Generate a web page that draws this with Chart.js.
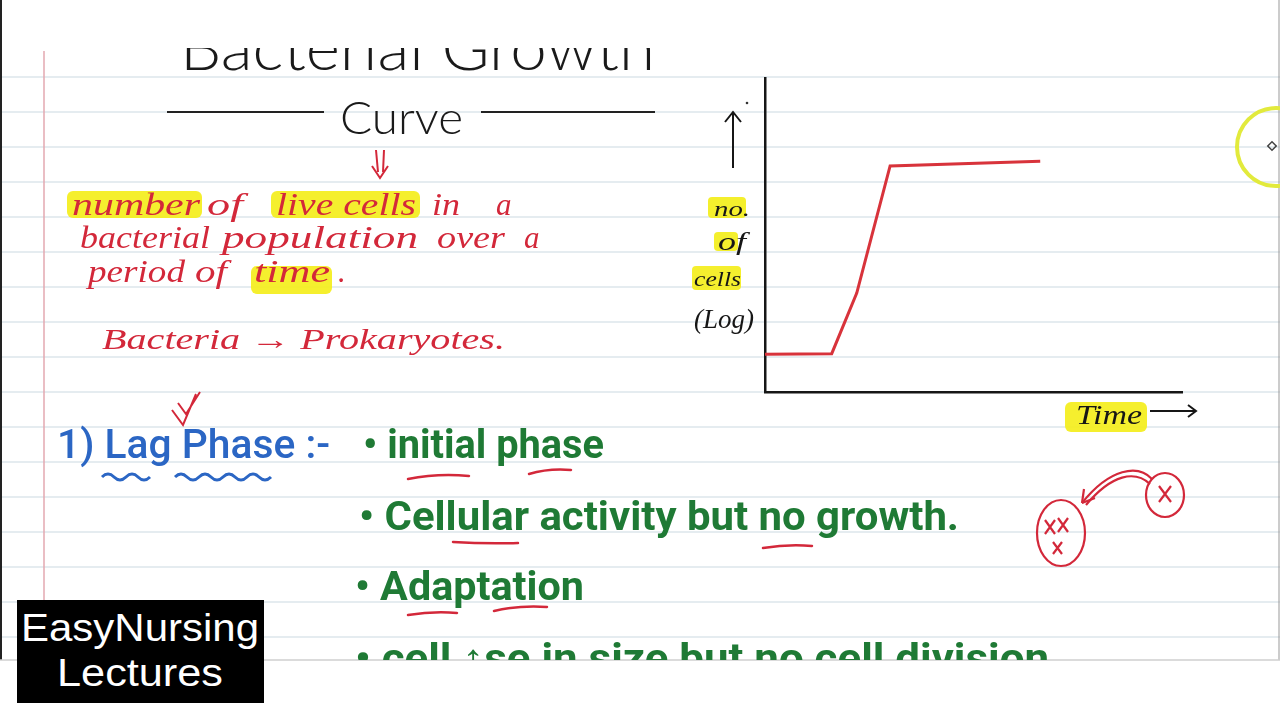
<!DOCTYPE html>
<html>
<head>
<meta charset="utf-8">
<title>Bacterial Growth Curve</title>
<script src="https://cdn.jsdelivr.net/npm/chart.js@4.4.1/dist/chart.umd.min.js"></script>
<style>
  html, body { margin: 0; padding: 0; background: #fff; }
  #page { position: relative; width: 1280px; height: 720px; overflow: hidden; background: #fff; }
  #paper, #notes { position: absolute; left: 0; top: 0; }
  #chartBox { position: absolute; left: 745px; top: 60px; width: 460px; height: 350px; }
  .red { fill: #d3283a; font-family: "Liberation Serif", serif; font-style: italic; }
  .green { fill: #1f7a35; font-family: Roboto, sans-serif; font-weight: 700; }
  .ink { fill: #161616; font-family: "Liberation Serif", serif; font-style: italic; }
</style>
</head>
<body>
<div id="page">
  <svg id="paper" width="1280" height="720"></svg>
  <div id="chartBox"><canvas id="growthChart"></canvas></div>
  <svg id="notes" width="1280" height="720">
    <defs><clipPath id="pageClip"><rect x="0" y="48" width="1280" height="612"/></clipPath></defs>
    <g clip-path="url(#pageClip)">
      <!-- highlighter -->
      <g fill="#f4ee1c" opacity="0.92">
        <rect x="67" y="191" width="135" height="27" rx="6"/>
        <rect x="271" y="191" width="149" height="27" rx="6"/>
        <rect x="251" y="266" width="81" height="28" rx="6"/>
        <rect x="708" y="197" width="38" height="21" rx="4"/>
        <rect x="714" y="232" width="24" height="19" rx="4"/>
        <rect x="692" y="266" width="49" height="24" rx="4"/>
        <rect x="1065" y="402" width="82" height="30" rx="6"/>
      </g>

      <!-- heading -->
      <text x="180" y="70" font-family="Lato, sans-serif" font-weight="300" font-size="64" fill="#1a1a1a" textLength="475" lengthAdjust="spacingAndGlyphs">Bacterial Growth</text>
      <text x="340" y="134" font-family="Lato, sans-serif" font-weight="300" font-size="46" fill="#1a1a1a" textLength="123" lengthAdjust="spacingAndGlyphs">Curve</text>
      <g stroke="#222" stroke-width="1.8">
        <line x1="167" y1="112" x2="324" y2="112"/>
        <line x1="481" y1="112" x2="655" y2="112"/>
      </g>

      <!-- definition -->
      <path d="M376 150 L378 172 M384 150 L383 172 M372 166 L380 178 L388 166" stroke="#d3283a" stroke-width="2" fill="none"/>
      <g class="red" font-size="31">
        <text x="72" y="215" textLength="128" lengthAdjust="spacingAndGlyphs">number</text>
        <text x="207" y="215" textLength="36" lengthAdjust="spacingAndGlyphs">of</text>
        <text x="276" y="215" textLength="140" lengthAdjust="spacingAndGlyphs">live cells</text>
        <text x="432" y="215" textLength="28" lengthAdjust="spacingAndGlyphs">in</text>
        <text x="496" y="215">a</text>

        <text x="80" y="248" textLength="130" lengthAdjust="spacingAndGlyphs">bacterial</text>
        <text x="222" y="248" textLength="196" lengthAdjust="spacingAndGlyphs">population</text>
        <text x="437" y="248" textLength="68" lengthAdjust="spacingAndGlyphs">over</text>
        <text x="524" y="248">a</text>

        <text x="88" y="282" textLength="97" lengthAdjust="spacingAndGlyphs">period</text>
        <text x="195" y="282" textLength="32" lengthAdjust="spacingAndGlyphs">of</text>
        <text x="254" y="282" textLength="76" lengthAdjust="spacingAndGlyphs">time</text>
        <text x="338" y="282">.</text>
      </g>
      <text class="red" x="102" y="349" font-size="29" textLength="403" lengthAdjust="spacingAndGlyphs">Bacteria → Prokaryotes.</text>

      <!-- lag phase -->
      <path d="M172 410 L183 425 L196 394 M178 403 L186 414 L200 392" stroke="#d3283a" stroke-width="2" fill="none"/>
      <text x="57" y="458" font-family="Roboto, sans-serif" font-weight="500" font-size="40" fill="#2b66c4" textLength="273" lengthAdjust="spacingAndGlyphs">1) Lag Phase :-</text>
      <path d="M102 477 q6 -6 12 0 t12 0 t12 0 t12 0 M175 477 q6 -6 12 0 t12 0 t12 0 t12 0 t12 0 t12 0 t12 0 t12 0" stroke="#2b66c4" stroke-width="3" fill="none"/>

      <text class="green" x="363" y="458" font-size="40" textLength="241" lengthAdjust="spacingAndGlyphs">• initial phase</text>
      <text class="green" x="359" y="530" font-size="40" textLength="600" lengthAdjust="spacingAndGlyphs">• Cellular activity but no growth.</text>
      <text class="green" x="355" y="600" font-size="40" textLength="229" lengthAdjust="spacingAndGlyphs">• Adaptation</text>
      <text class="green" x="355" y="672" font-size="40" textLength="694" lengthAdjust="spacingAndGlyphs">• cell ↑se in size but no cell division</text>
      <g stroke="#d3283a" stroke-width="2.5" fill="none" stroke-linecap="round">
        <path d="M408 479 q30 -6 61 -3"/>
        <path d="M529 474 q20 -6 42 -4"/>
        <path d="M453 542 q32 2 65 1"/>
        <path d="M763 548 q25 -4 49 -2"/>
        <path d="M408 615 q25 -4 49 -2"/>
        <path d="M494 611 q26 -6 53 -4"/>
      </g>

      <!-- cells sketch -->
      <g stroke="#d3283a" stroke-width="2.2" fill="none">
        <ellipse cx="1061" cy="533" rx="24" ry="33"/>
        <ellipse cx="1165" cy="495" rx="19" ry="22"/>
        <path d="M1045 520 l10 14 M1055 520 l-10 14 M1058 518 l10 14 M1068 518 l-10 14 M1053 542 l9 12 M1062 542 l-9 12"/>
        <path d="M1159 486 l12 16 M1171 486 l-12 16"/>
        <path d="M1152 479 C1138 464 1110 468 1082 503 M1150 484 C1135 470 1112 474 1086 505"/>
        <path d="M1082 503 L1084 489 M1082 503 L1095 498"/>
      </g>

      <!-- axis captions -->
      <path d="M733 168 L733 112 M725 122 L733 112 L741 122" stroke="#161616" stroke-width="2" fill="none"/>
      <circle cx="747" cy="103" r="1.3" fill="#333"/>
      <text id="yCap0" class="ink" x="714" y="216" font-size="22" textLength="36" lengthAdjust="spacingAndGlyphs"></text>
      <text id="yCap1" class="ink" x="718" y="250" font-size="26" textLength="28" lengthAdjust="spacingAndGlyphs"></text>
      <text id="yCap2" class="ink" x="694" y="286" font-size="22" textLength="47" lengthAdjust="spacingAndGlyphs"></text>
      <text id="yCap3" class="ink" x="694" y="328" font-size="28" textLength="60" lengthAdjust="spacingAndGlyphs"></text>
      <text id="xCap" class="ink" x="1076" y="424" font-size="28" textLength="66" lengthAdjust="spacingAndGlyphs"></text>
      <path d="M1150 411 L1196 411 M1188 405 L1196 411 L1188 417" stroke="#161616" stroke-width="2" fill="none"/>

      <!-- pointer circle -->
      <circle cx="1276" cy="147" r="39" stroke="#e2ea3c" stroke-width="4" fill="none"/>
      <rect x="1269" y="143" width="6" height="6" transform="rotate(45 1272 146)" fill="none" stroke="#444" stroke-width="1.5"/>
    </g>

    <!-- watermark -->
    <rect x="17" y="600" width="247" height="103" fill="#000"/>
    <text x="21" y="641" font-family="'Liberation Sans', Arial, sans-serif" font-size="38" fill="#fff" textLength="238" lengthAdjust="spacingAndGlyphs">EasyNursing</text>
    <text x="57" y="686" font-family="'Liberation Sans', Arial, sans-serif" font-size="38" fill="#fff" textLength="166" lengthAdjust="spacingAndGlyphs">Lectures</text>
  </svg>
</div>

<script>
// growth curve (x: time, y: log no. of cells)
const timePoints = [0, 1.6, 2.2, 3.0, 6.6];
const logCells = [1.2, 1.22, 3.15, 7.2, 7.35];

// axis captions
const yCaption = ['no.', 'of', 'cells', '(Log)'];
const xCaption = 'Time';

yCaption.forEach((t, i) => { document.getElementById('yCap' + i).textContent = t; });
document.getElementById('xCap').textContent = xCaption;

// ruled paper
const paper = document.getElementById('paper');
let lines = '';
for (let y = 77; y < 660; y += 35) {
  lines += `<line x1="0" y1="${y}" x2="1280" y2="${y}" stroke="#dde6eb" stroke-width="1.5"/>`;
}
lines += '<line x1="44" y1="51" x2="44" y2="660" stroke="#e3a9b0" stroke-width="1.5"/>';
lines += '<line x1="1" y1="0" x2="1" y2="660" stroke="#222" stroke-width="2"/>';
lines += '<line x1="1279" y1="0" x2="1279" y2="660" stroke="#999" stroke-width="1"/>';
lines += '<line x1="0" y1="660" x2="1280" y2="660" stroke="#cfcfcf" stroke-width="1.5"/>';
paper.innerHTML = lines;

const axisStyle = {
  type: 'linear',
  min: 0,
  max: 10,
  ticks: { display: false },
  grid: { display: false, drawTicks: false },
  border: { display: true, color: '#161616', width: 2.5 }
};

const ctx = document.getElementById('growthChart');
new Chart(ctx, {
  type: 'line',
  data: {
    datasets: [{
      data: timePoints.map((t, i) => ({ x: t, y: logCells[i] })),
      borderColor: '#d8333b',
      borderWidth: 3,
      pointRadius: 0,
      tension: 0,
      fill: false,
      clip: false
    }]
  },
  options: {
    responsive: true,
    maintainAspectRatio: false,
    animation: false,
    layout: { padding: { left: 20, top: 18, right: 23, bottom: 18 } },
    plugins: { legend: { display: false }, tooltip: { enabled: false } },
    scales: { x: axisStyle, y: axisStyle }
  }
});
</script>
</body>
</html>
